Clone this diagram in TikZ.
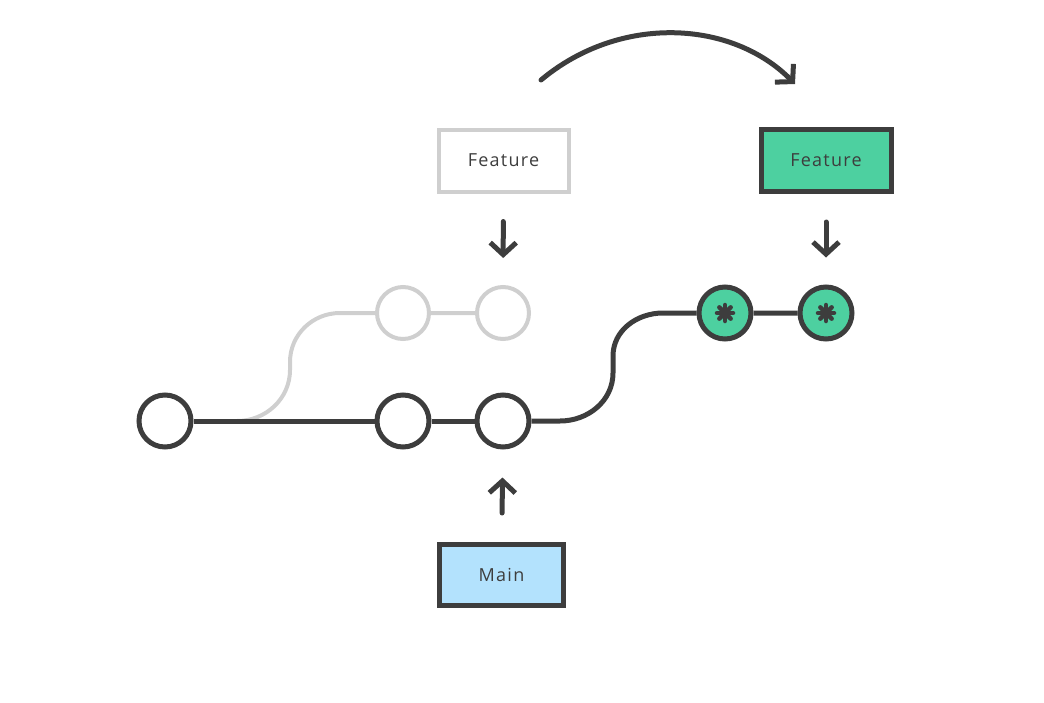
\documentclass[tikz,border=0pt]{standalone}
\usepackage{fontspec}
\setmainfont[LetterSpace=7]{Open Sans}
\usepackage{tikz}
\usetikzlibrary{arrows.meta}
\usepackage{xcolor}
\definecolor{inkdark}{HTML}{3D3D3D}
\definecolor{inklight}{HTML}{CFCFCF}
\definecolor{featgreen}{HTML}{4DD0A0}
\definecolor{mainblue}{HTML}{B3E2FD}

\begin{document}
\begin{tikzpicture}[x=1pt, y=-1pt,
    commit/.style={circle, draw=inkdark, line width=5pt, fill=white, minimum size=52pt, inner sep=0pt},
    ghost/.style={commit, draw=inklight, line width=4pt},
    newcommit/.style={commit, fill=featgreen},
    branchbox/.style={rectangle, draw=inkdark, line width=5pt, minimum width=130pt, minimum height=62pt,
                 text=inkdark, font=\fontsize{18}{21}\selectfont},
    edge/.style={line width=5pt, inkdark},
    ptr/.style={-{Straight Barb[length=12pt, width=26pt]}, line width=5pt, line cap=round, inkdark}
]
    \useasboundingbox (0,0) rectangle (1044,702);

    % commits
    \node[commit] (c1) at (165,421) {};
    \node[commit] (c2) at (403,421) {};
    \node[commit] (c3) at (503,421) {};
    \node[ghost] (o1) at (403,313) {};
    \node[ghost] (o2) at (503,313) {};
    \node[newcommit] (n1) at (725,313) {};
    \node[newcommit] (n2) at (826,313) {};

    % branch labels
    \node[branchbox, draw=inklight, line width=4pt] (fold) at (503.5,160.5) {Feature};
    \node[branchbox, fill=featgreen] (fnew) at (826,160.5) {Feature};
    \node[branchbox, fill=mainblue, minimum width=124pt, minimum height=61pt] (main) at (501.5,575) {Main};

    % old feature branch
    \coordinate (fork) at (237,421);
    \draw[line width=4pt, inklight] (fork) to[out=0, in=-90] (290,370) -- (290,362)
        to[out=90, in=180] (340,313) -- (o1) -- (o2);

    % main line and rebased branch
    \draw[edge] (c1) -- (c2) -- (c3);
    \draw[edge] (c3) -- (560,421) to[out=0, in=-90] (613,373) -- (613,356)
        to[out=90, in=180] (663,313) -- (n1) -- (n2);

    \foreach \n in {n1,n2} {
        \foreach \a in {0,45,90,135}
            \draw[inkdark, line width=4.5pt, line cap=round] (\n) ++(\a:8) -- ++(\a+180:16);
        \fill[inkdark] (\n) circle (5.5);
    }

    % pointers
    \draw[ptr, shorten <=28pt, shorten >=27pt] (fold) -- (o2);
    \draw[ptr, shorten <=28pt, shorten >=27pt] (fnew) -- (n2);
    \draw[ptr, shorten <=29pt, shorten >=28pt] (main) -- (c3);

    % move of the branch
    \coordinate (mvfrom) at (541,80);
    \coordinate (mvto) at (795,84);
    \draw[ptr] (mvfrom) .. controls (620,14) and (732,20) .. (mvto);
\end{tikzpicture}
\end{document}
